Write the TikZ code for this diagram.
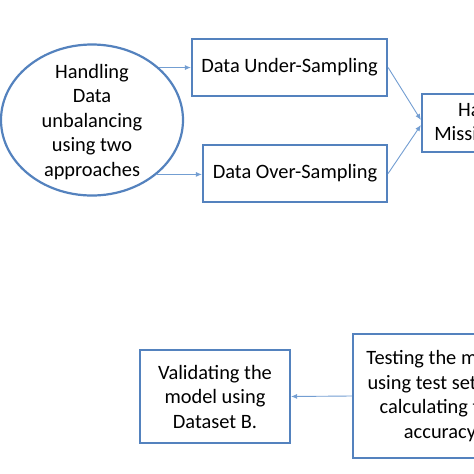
\documentclass[tikz,border=0pt]{standalone}
\usepackage{fontspec}
\setmainfont{Carlito}
\usetikzlibrary{shapes.geometric,arrows.meta}

\definecolor{boxblue}{RGB}{84,130,190}
\definecolor{arrblue}{RGB}{115,158,210}

\begin{document}
\begin{tikzpicture}
[
	x=1pt,y=-1pt,
	every node/.style={font=\fontsize{20.4}{24.5}\selectfont,align=center,inner sep=0pt},
	stepbox/.style={rectangle,draw=boxblue,line width=2.2pt},
	oval/.style={ellipse,draw=boxblue,line width=2.2pt},
	arr/.style={-{Latex[length=6pt,width=5pt]},arrblue,line width=0.9pt}
]

	% frame
	\clip (0,0) rectangle (474,474);
	\fill[white] (0,0) rectangle (474,474);

	% nodes
	\node[oval,minimum width=182,minimum height=151] (unbal) at (92,120)
		{};
	\node (unbaltext) at (92,122) {Handling\\Data\\unbalancing\\using two\\approaches};
	\node[stepbox,minimum width=195,minimum height=57] (under) at (289.5,67.5)
		{Data Under-Sampling};
	\node[stepbox,minimum width=184,minimum height=57] (over) at (295,173.5)
		{Data Over-Sampling};
	\node[stepbox,minimum width=146,minimum height=58] (missing) at (495,123)
		{Handling\\Missing Values};
	\node[stepbox,minimum width=150,minimum height=93] (valid) at (215,396.5)
		{Validating the\\model using\\Dataset B.};
	\node[stepbox,minimum width=174,minimum height=124] (test) at (440,396)
		{Testing the model\\using test set and\\calculating the\\accuracy};

	% connectors
	\draw[arr] (unbal.38) -- (unbal.38 -| under.west);
	\draw[arr] (unbal.-40) -- (unbal.-40 -| over.west);
	\draw[arr] (under.east) -- ([yshift=3pt]missing.west);
	\draw[arr] (over.east) -- ([yshift=-2pt]missing.west);
	\draw[arr] (test.west) -- (valid.east);

\end{tikzpicture}
\end{document}
